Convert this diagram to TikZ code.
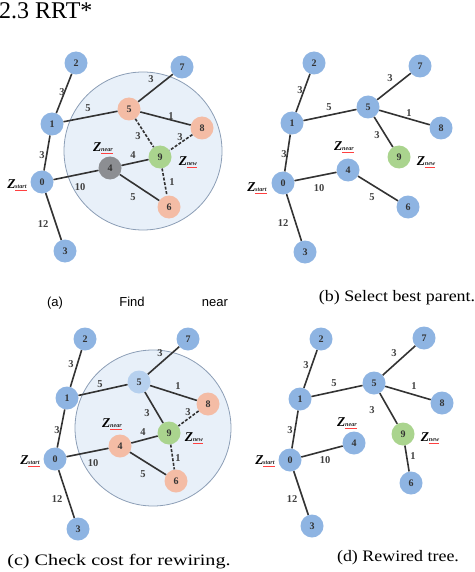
\documentclass[tikz,border=0pt]{standalone}
\usepackage{fontspec}
\setmainfont{Liberation Serif}
\newfontfamily\capsans{Liberation Sans}
\newfontfamily\capserif[FakeStretch=1.12]{Liberation Serif}
\newfontfamily\capserifw[FakeStretch=1.26]{Liberation Serif}
\definecolor{nblue}{RGB}{142,180,226}
\definecolor{nlblue}{RGB}{182,208,238}
\definecolor{norange}{RGB}{244,188,165}
\definecolor{ngreen}{RGB}{170,212,142}
\definecolor{ngray}{RGB}{140,142,146}
\definecolor{ncirc}{RGB}{232,240,249}
\definecolor{ncircb}{RGB}{140,158,182}
\newcommand\zlab[1]{\textbf{\textit{Z}}\kern-0.3pt{\color{red!75}\underline{\color{black!85}\fontsize{6.2}{6.2}\selectfont\textbf{\textit{#1}}}}}
\begin{document}
\begin{tikzpicture}[x=1pt,y=-1pt,
  nd/.style={circle, minimum size=23pt, inner sep=0pt, font=\bfseries\fontsize{10}{10}\selectfont, text=black!80},
  bl/.style={nd, fill=nblue},
  lb/.style={nd, fill=nlblue},
  orn/.style={nd, fill=norange},
  gr/.style={nd, fill=ngreen},
  gy/.style={nd, fill=ngray},
  edge/.style={draw=black!80, line width=1.6pt},
  dedge/.style={edge, dash pattern=on 3pt off 1.6pt},
  el/.style={font=\bfseries\fontsize{10.5}{10.5}\selectfont, text=black!75, inner sep=0pt},
  zl/.style={inner sep=0pt, font=\fontsize{13.5}{13.5}\selectfont},
  region/.style={circle, draw=ncircb, fill=ncirc, line width=0.8pt, inner sep=0pt},
  capt/.style={inner sep=0pt, anchor=base, font=\capserif\fontsize{16}{16}\selectfont}
]
\useasboundingbox (0,0) rectangle (474,572);

% title
\node (title) [anchor=base west, inner sep=0pt, font=\fontsize{24}{24}\selectfont] at (-1,19) {2.3 RRT*};

%================ (a) ================
\node (ra) [region, minimum size=158pt] at (143,151) {};
\node (a0) [bl] at (42,182) {0};
\node (a1) [bl] at (52,124) {1};
\node (a2) [bl] at (76,63) {2};
\node (a3) [bl] at (65,251) {3};
\node (a4) [gy] at (110,168) {4};
\node (a5) [orn] at (129,109) {5};
\node (a6) [orn] at (169,207) {6};
\node (a7) [bl] at (182,67) {7};
\node (a8) [orn] at (202,128) {8};
\node (a9) [gr] at (160,157) {9};
\draw[edge] (a1) -- (a2);
\draw[edge] (a1) -- (a0);
\draw[edge] (a0) -- (a3);
\draw[edge] (a1) -- (a5);
\draw[edge] (a5) -- (a7);
\draw[edge] (a5) -- (a8);
\draw[edge] (a0) -- (a4);
\draw[edge] (a4) -- (a9);
\draw[edge] (a4) -- (a6);
\draw[dedge] (a5) -- (a9);
\draw[dedge] (a8) -- (a9);
\draw[dedge] (a9) -- (a6);
\node (al1) [el] at (62,92) {3};
\node (al2) [el] at (42,155) {3};
\node (al3) [el] at (43,224) {12};
\node (al4) [el] at (88,108) {5};
\node (al5) [el] at (151,79) {3};
\node (al6) [el] at (171,116) {1};
\node (al7) [el] at (138,136) {3};
\node (al8) [el] at (180,137) {3};
\node (al9) [el] at (133,155) {4};
\node (al10) [el] at (172,182) {1};
\node (al11) [el] at (133,197) {5};
\node (al12) [el] at (80,187) {10};
\node (az1) [zl] at (17,185) {\zlab{start}};
\node (az2) [zl] at (103,148) {\zlab{near}};
\node (az3) [zl] at (188,162) {\zlab{new}};
\node (capa1) [anchor=base, inner sep=0pt, font=\capsans\fontsize{13}{13}\selectfont] at (55,306) {(a)};
\node (capa2) [anchor=base, inner sep=0pt, font=\capsans\fontsize{13}{13}\selectfont] at (132,306) {Find};
\node (capa3) [anchor=base, inner sep=0pt, font=\capsans\fontsize{13}{13}\selectfont] at (215,306) {near};

%================ (b) ================
\node (b0) [bl] at (283,183) {0};
\node (b1) [bl] at (292,123) {1};
\node (b2) [bl] at (314,63) {2};
\node (b3) [bl] at (305,252) {3};
\node (b4) [bl] at (348,170) {4};
\node (b5) [bl] at (368,107) {5};
\node (b6) [bl] at (408,207) {6};
\node (b7) [bl] at (420,66) {7};
\node (b8) [bl] at (441,128) {8};
\node (b9) [gr] at (399,157) {9};
\draw[edge] (b1) -- (b2);
\draw[edge] (b1) -- (b0);
\draw[edge] (b0) -- (b3);
\draw[edge] (b1) -- (b5);
\draw[edge] (b5) -- (b7);
\draw[edge] (b5) -- (b8);
\draw[edge] (b5) -- (b9);
\draw[edge] (b0) -- (b4);
\draw[edge] (b4) -- (b6);
\node (bl1) [el] at (300,90) {3};
\node (bl2) [el] at (284,154) {3};
\node (bl3) [el] at (283,223) {12};
\node (bl4) [el] at (329,107) {5};
\node (bl5) [el] at (390,78) {3};
\node (bl6) [el] at (409,113) {1};
\node (bl7) [el] at (377,135) {3};
\node (bl8) [el] at (319,188) {10};
\node (bl9) [el] at (372,197) {5};
\node (bz1) [zl] at (257,188) {\zlab{start}};
\node (bz2) [zl] at (344,147) {\zlab{near}};
\node (bz3) [zl] at (426,162) {\zlab{new}};
\node (capb) [capt] at (397,301) {(b) Select best parent.};

%================ (c) ================
\node (rc) [region, minimum size=156pt] at (153,428) {};
\node (c0) [bl] at (55,459) {0};
\node (c1) [bl] at (67,398) {1};
\node (c2) [bl] at (85,339) {2};
\node (c3) [bl] at (78,529) {3};
\node (c4) [orn] at (120,446) {4};
\node (c5) [lb] at (139,382) {5};
\node (c6) [orn] at (176,481) {6};
\node (c7) [bl] at (188,339) {7};
\node (c8) [orn] at (208,404) {8};
\node (c9) [gr] at (169,433) {9};
\draw[edge] (c1) -- (c2);
\draw[edge] (c1) -- (c0);
\draw[edge] (c0) -- (c3);
\draw[edge] (c1) -- (c5);
\draw[edge] (c5) -- (c7);
\draw[edge] (c5) -- (c8);
\draw[edge] (c5) -- (c9);
\draw[edge] (c4) -- (c9);
\draw[edge] (c0) -- (c4);
\draw[edge] (c4) -- (c6);
\draw[dedge] (c8) -- (c9);
\draw[dedge] (c9) -- (c6);
\node (cl1) [el] at (71,364) {3};
\node (cl2) [el] at (57,430) {3};
\node (cl3) [el] at (57,499) {12};
\node (cl4) [el] at (100,384) {5};
\node (cl5) [el] at (160,353) {3};
\node (cl6) [el] at (178,386) {1};
\node (cl7) [el] at (147,413) {3};
\node (cl8) [el] at (188,412) {3};
\node (cl9) [el] at (143,432) {4};
\node (cl10) [el] at (178,458) {1};
\node (cl11) [el] at (143,474) {5};
\node (cl12) [el] at (93,463) {10};
\node (cz1) [zl] at (30,461) {\zlab{start}};
\node (cz2) [zl] at (112,424) {\zlab{near}};
\node (cz3) [zl] at (194,438) {\zlab{new}};
\node (capc) [capt, font=\capserifw\fontsize{16}{16}\selectfont] at (119,565) {(c) Check cost for rewiring.};

%================ (d) ================
\node (d0) [bl] at (290,460) {0};
\node (d1) [bl] at (300,399) {1};
\node (d2) [bl] at (321,339) {2};
\node (d3) [bl] at (312,526) {3};
\node (d4) [bl] at (354,443) {4};
\node (d5) [bl] at (374,383) {5};
\node (d6) [bl] at (411,483) {6};
\node (d7) [bl] at (424,338) {7};
\node (d8) [bl] at (442,403) {8};
\node (d9) [gr] at (403,434) {9};
\draw[edge] (d1) -- (d2);
\draw[edge] (d1) -- (d0);
\draw[edge] (d0) -- (d3);
\draw[edge] (d1) -- (d5);
\draw[edge] (d5) -- (d7);
\draw[edge] (d5) -- (d8);
\draw[edge] (d5) -- (d9);
\draw[edge] (d9) -- (d6);
\draw[edge] (d0) -- (d4);
\node (dl1) [el] at (306,365) {3};
\node (dl2) [el] at (290,430) {3};
\node (dl3) [el] at (292,499) {12};
\node (dl4) [el] at (334,383) {5};
\node (dl5) [el] at (394,353) {3};
\node (dl6) [el] at (414,386) {1};
\node (dl7) [el] at (372,410) {3};
\node (dl8) [el] at (413,456) {1};
\node (dl9) [el] at (325,460) {10};
\node (dz1) [zl] at (265,461) {\zlab{start}};
\node (dz2) [zl] at (347,423) {\zlab{near}};
\node (dz3) [zl] at (430,438) {\zlab{new}};
\node (capd) [capt] at (398,561) {(d) Rewired tree.};
\end{tikzpicture}
\end{document}
